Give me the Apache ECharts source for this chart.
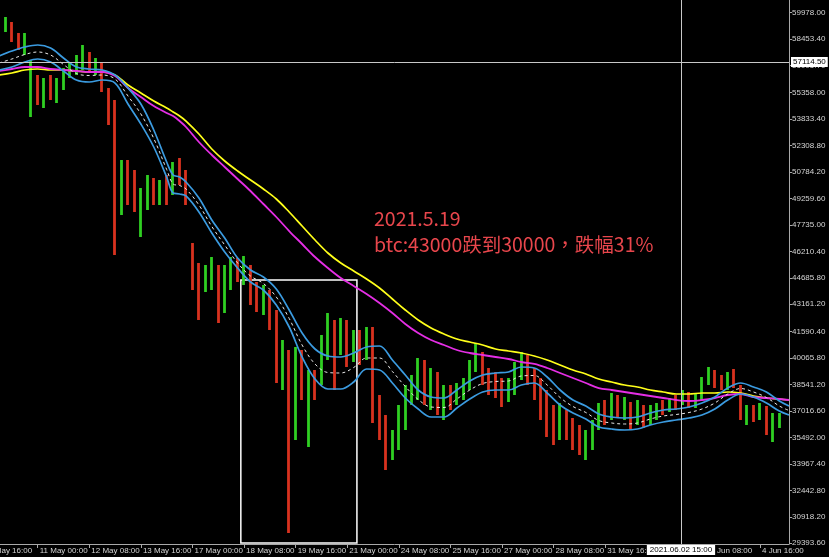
<!DOCTYPE html>
<html><head><meta charset="utf-8">
<script src="https://cdn.jsdelivr.net/npm/echarts@6/dist/echarts.min.js"></script>
<style>html,body{margin:0;padding:0;background:#000}#c{width:829px;height:557px}</style>
</head><body><div id="c"></div><script>
// 4-hour bars, first bar index
const firstBar = 2;
const barOpen = [58786,59074,59420,58498,58095,55215,56079,55215,55791,55388,55964,56540,56885,57231,57692,56943,57116,55503,53890,49743,50607,50031,48303,49167,50031,49455,49858,49455,51010,50607,46575,44559,43983,45135,45250,42946,44847,45423,45020,45423,43695,43407,43868,42370,39375,39951,35919,39375,38223,38799,38511,41103,42140,40527,41967,40527,41103,40815,41391,37359,35919,34479,35055,36783,37935,38511,39375,38223,38799,37647,37935,37647,38223,38511,39490,40239,39087,38511,38223,37935,38511,39375,39951,39087,38223,37071,36207,35631,36783,35919,35343,34767,35055,36207,37071,36783,37647,37071,37359,36495,37186,36610,36956,37244,37071,37532,37359,37935,37647,37820,38684,39260,38799,38684,39029,38511,36956,37071,36783,37186,36034,36495];
const barClose = [59132,59420,58498,58095,58383,56079,55215,55791,55388,55964,56540,56885,57231,57692,56943,57116,55618,53890,49743,50607,50031,49455,49167,50031,49455,49858,49167,51010,50607,49282,44271,43407,45135,45423,42831,44847,45423,45020,45596,43695,43407,43868,42370,39375,39951,35919,39375,38511,38799,38223,40815,42140,39375,41967,40527,41103,40815,41391,37359,35919,34479,35055,36783,37935,38511,39375,38223,38799,37647,37935,37647,38223,38511,39490,40239,39087,38511,38223,37935,38511,39375,39951,39087,38223,37071,36207,35631,36783,35919,35343,34767,35343,36207,37071,36783,37647,37071,37359,36495,37186,36610,36956,37244,37071,37532,37359,37935,37647,37820,38684,39260,38799,38684,39029,38511,36956,37071,36783,37186,36034,36495,36610];
const barLow = [58671,58844,58268,57807,57519,53948,54639,54466,54927,54754,55503,56194,56367,56655,56540,56367,55388,53487,45999,48303,48879,48476,47036,48591,48879,48879,48879,49455,50031,48879,43983,42255,43868,43983,42082,42658,43983,44444,44271,43119,42716,42543,41679,38626,38223,29986,35343,37647,34940,37647,38511,39951,38223,40239,39548,39836,39663,39951,36322,35343,33615,34191,34767,35919,37359,37647,37359,37071,36783,36495,37071,37359,37647,38223,39260,38511,37935,37762,37244,37532,37935,38799,38511,37647,36495,35516,35055,35343,35343,34767,34479,34191,34767,35919,36207,36495,36610,36495,35919,36207,36034,36207,36495,36783,36956,37071,37359,37186,37186,37647,38511,38338,38223,38223,38338,36495,36207,36380,36495,35631,35228,36034];
const barHigh = [59247,59708,59420,58786,58786,57231,56367,56194,56367,56194,56770,57116,57519,58095,57692,57346,57116,55618,54927,51471,51471,50895,49858,50607,50434,50319,50607,51356,51586,50895,46690,45538,45423,45884,45423,45423,45884,45826,45941,45423,44444,44271,43983,42831,41103,40527,40700,40527,39375,39375,41391,42658,42255,42370,42255,41679,41679,41852,41852,37935,36783,35919,37359,38511,39087,40066,39951,39490,39260,38511,38511,38626,38914,39951,40930,40412,39490,39260,38914,38914,39836,40412,40239,39490,38914,38223,37359,37474,37071,36610,36207,35919,36495,37474,37647,38050,37935,37820,37532,37647,37359,37359,37474,37647,37762,37935,38223,38108,38050,38972,39548,39375,39087,39260,39433,38511,37359,37359,37474,37301,36898,36898];

// time axis labels, one per 8 bars (32 hours)
const timeLabels = ['7 May 16:00','11 May 00:00','12 May 08:00','13 May 16:00','17 May 00:00','18 May 08:00','19 May 16:00','21 May 00:00','24 May 08:00','25 May 16:00','27 May 00:00','28 May 08:00','31 May 16:00','2 Jun 00:00','3 Jun 08:00','4 Jun 16:00'];
const barsPerLabel = 8;
// price axis labels
const priceTicks = [29393.60,30918.20,32442.80,33967.40,35492.00,37016.60,38541.20,40065.80,41590.40,43161.20,44685.80,46210.40,47735.00,49259.60,50784.20,52308.80,53833.40,55358.00,56905.70,58453.40,59978.00];

// indicator lines sampled at these bar indices
const lineIdx = [2,4,6,8,10,12,14,16,18,20,22,24,26,28,29,30,31,33,35,37,39,41,43,45,47,49,51,53,55,57,59,61,63,65,67,69,71,73,75,77,79,81,83,85,87,89,91,93,95,97,99,101,103,105,107,109,111,113,115,117,119,121,123,124.5];
const bandUpper = [57461,57749,57980,58095,57922,57346,56828,56713,56655,56367,55618,54697,53199,51356,50607,50492,50204,49282,48015,46978,45826,45135,44732,44041,42831,41506,40585,40181,40124,40354,40700,40758,39951,39087,38223,37820,37762,38223,38741,39087,39202,39260,39548,39490,38972,38223,37647,37301,36841,36668,36610,36668,36898,37071,37128,37244,37474,37820,38338,38626,38395,38108,37589,37301];
const bandLower = [56655,56828,57116,57289,57116,56597,56079,55964,56079,55906,54697,53545,52220,50492,49570,49513,49398,48476,47266,46172,45250,44444,43983,43119,41852,40124,38857,38281,38281,38684,39433,39375,38626,37762,37128,36668,36668,37186,37704,38108,38223,38223,38511,38626,38050,37359,36898,36553,36092,35977,35919,35977,36207,36380,36495,36610,36783,37128,37647,37993,37820,37474,37013,36783];
const bandMid = [57058,57289,57548,57692,57519,56972,56454,56339,56367,56137,55158,54121,52710,50924,50089,50003,49801,48879,47641,46575,45538,44790,44358,43580,42342,40815,39721,39231,39203,39519,40067,40067,39289,38425,37676,37244,37215,37705,38223,38598,38713,38742,39030,39058,38511,37791,37273,36927,36467,36323,36265,36323,36553,36726,36812,36927,37129,37474,37993,38310,38108,37791,37301,37042];
const maYellow = [56367,56482,56655,56713,56655,56655,56597,56540,56540,56367,55791,55330,54869,54466,54236,54005,53717,52969,52105,51413,50837,50319,49801,49225,48476,47669,46863,46114,45538,45077,44617,44098,43465,42831,42255,41794,41449,41160,40988,40815,40585,40470,40354,40181,39951,39663,39375,39145,38857,38684,38511,38396,38223,38108,37993,37993,38050,38050,38108,38050,37877,37762,37704,37647];
const maMagenta = [56597,56713,56828,56828,56713,56655,56597,56540,56540,56309,55618,55100,54581,54178,54005,53717,53372,52508,51759,51068,50377,49685,48937,48188,47381,46633,45884,45250,44674,44213,43753,43234,42658,42025,41506,41103,40815,40527,40354,40239,40124,40009,39836,39721,39490,39202,38914,38626,38338,38223,38108,37993,37877,37762,37647,37589,37647,37762,37935,37993,37820,37762,37704,37647];

const crossPrice = 57114.50;
const crossIndex = 107.75;
const crossTime = '2021.06.02 15:00';
const boxIdx = [39.5, 57.5];
const boxPrice = [29411, 44559];
const noteLines = ['2021.5.19', 'btc:43000跌到30000，跌幅31%'];

const candles = barOpen.map((o, k) => [firstBar + k, o, barClose[k], barLow[k], barHigh[k]]);
const pairs = arr => lineIdx.map((x, k) => [x, arr[k]]);
const timeTickValues = timeLabels.map((t, k) => k * barsPerLabel);

const axisColor = '#a9a9a9';
const textColor = '#d4d4d4';
const labelFont = { color: textColor, fontSize: 8, fontFamily: 'Liberation Sans' };
const lineSeries = (arr, color, width, type) => ({
  type: 'line', data: pairs(arr), showSymbol: false, smooth: 0.35, silent: true,
  lineStyle: { color: color, width: width, type: type || 'solid' }
});

const chart = echarts.init(document.getElementById('c'), null, { renderer: 'canvas' });
chart.setOption({
  backgroundColor: '#000',
  animation: false,
  grid: { left: 0, right: 40, top: 0, bottom: 13 },
  xAxis: {
    type: 'value', min: 2.155, max: 124.5,
    axisLine: { show: true, lineStyle: { color: axisColor, width: 1 } },
    axisTick: { show: true, customValues: timeTickValues, length: 4, lineStyle: { color: axisColor } },
    axisLabel: Object.assign({
      customValues: timeTickValues, formatter: v => timeLabels[Math.round(v / barsPerLabel)] || '',
      align: 'left', margin: 3, padding: [0, 0, 0, 2]
    }, labelFont),
    splitLine: { show: false }
  },
  yAxis: {
    type: 'value', position: 'right', min: 29353, max: 60687,
    axisLine: { show: true, lineStyle: { color: axisColor, width: 1 } },
    axisTick: { show: true, customValues: priceTicks, length: 3, lineStyle: { color: axisColor } },
    axisLabel: Object.assign({ customValues: priceTicks, formatter: v => v.toFixed(2), margin: 3 }, labelFont),
    splitLine: { show: false }
  },
  series: [
    {
      type: 'candlestick', data: candles, encode: { x: 0, y: [1, 2, 3, 4] }, barWidth: 1, silent: true,
      itemStyle: { color: '#2fcf22', color0: '#d8321f', borderColor: '#2fcf22', borderColor0: '#d8321f', borderWidth: 2.8 },
      markArea: {
        silent: true,
        itemStyle: { color: 'rgba(0,0,0,0)', borderColor: '#ffffff', borderWidth: 1.5 },
        data: [[{ xAxis: boxIdx[0], yAxis: boxPrice[0] }, { xAxis: boxIdx[1], yAxis: boxPrice[1] }]]
      }
    },
    lineSeries(maYellow, '#ffff1a', 1.7),
    lineSeries(maMagenta, '#e52ee5', 1.8),
    lineSeries(bandUpper, '#3b9be0', 1.7),
    lineSeries(bandLower, '#3b9be0', 1.7),
    lineSeries(bandMid, '#e8e8e8', 1, [3, 3]),
    {
      type: 'line', data: [], silent: true,
      markLine: {
        symbol: 'none', silent: true,
        lineStyle: { color: '#c8c8c8', width: 1, type: 'solid' },
        data: [
          { yAxis: crossPrice, label: { show: true, position: 'end', distance: 2, formatter: crossPrice.toFixed(2),
            backgroundColor: '#ffffff', color: '#000', fontSize: 8, fontFamily: 'Liberation Sans', padding: [1, 2, 1, 2] } },
          { xAxis: crossIndex, label: { show: true, position: 'start', distance: 1, formatter: crossTime,
            backgroundColor: '#ffffff', color: '#000', fontSize: 8, fontFamily: 'Liberation Sans', padding: [1, 3, 1, 3] } }
        ]
      }
    }
  ]
});

// first time label sits left of the plot edge; place it at its tick through the axis scale
const firstTickPx = chart.convertToPixel({ xAxisIndex: 0 }, timeTickValues[0]);
const axisBottomPx = chart.convertToPixel({ yAxisIndex: 0 }, 29353);
chart.setOption({
  graphic: [
    {
      type: 'text', x: firstTickPx + 2, y: axisBottomPx + 3, silent: true,
      style: { text: timeLabels[0], fill: textColor, fontSize: 8, fontFamily: 'Liberation Sans', verticalAlign: 'top' }
    },
    {
      type: 'text', left: 374, top: 206, silent: true,
      style: { text: noteLines.join('\n'), fill: '#e8464c', fontSize: 19.5, fontFamily: '"Noto Sans CJK TC"', lineHeight: 26 }
    }
  ]
});
</script></body></html>
